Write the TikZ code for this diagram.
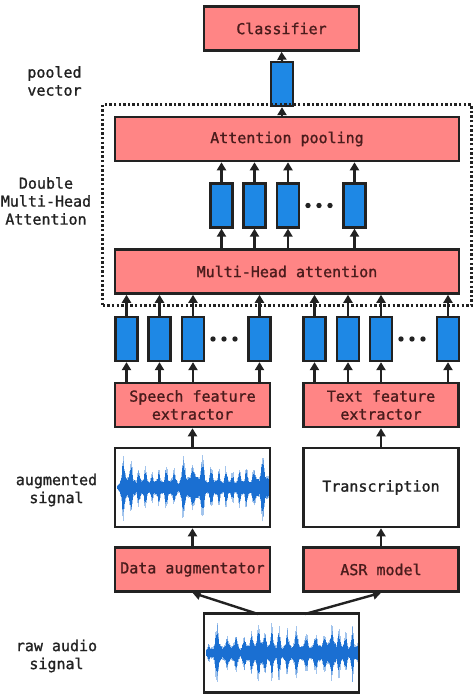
\documentclass[tikz,border=0pt]{standalone}
\usepackage{fontspec}
\setmainfont{DejaVu Sans Mono}[FakeBold=1.2]
\usetikzlibrary{arrows.meta,fit}

\definecolor{boxred}{HTML}{FF8585}
\definecolor{boxtxt}{HTML}{4A1C1C}
\definecolor{edge}{HTML}{222222}
\definecolor{vecblue}{HTML}{1E88E5}
\definecolor{wave}{HTML}{1A6FD2}

% waveform drawn round a centre point
\newcommand{\audiowave}[2]{%
  \begin{scope}[shift={(#1)}]
    \pgfmathsetseed{#2}
    \foreach \i in {0,...,255} {
      \pgfmathsetmacro\xx{-76+\i*0.6}
      \pgfmathsetmacro\env{min(1,(\xx+76)/6)}
      \pgfmathsetmacro\ph{(\xx+76)*22.5+60*sin(\xx*4.3+#2*17)}
      \pgfmathsetmacro\h{0.4+0.6*abs(sin(\xx*9.1+#2*31)*cos(\xx*2.3))}
      \pgfmathsetmacro\b{abs(sin(\ph))^5}
      \pgfmathsetmacro\body{4+4*max(0,sin(\xx*5.1+#2*40))^2+2*abs(sin(\xx*13))}
      \pgfmathsetmacro\sp{28*\h*\b}
      \pgfmathsetmacro\up{\env*(\body+2*rnd+\sp*(0.6+0.4*rnd))}
      \pgfmathsetmacro\dn{\env*(\body+2*rnd+\sp*(0.6+0.4*rnd))}
      \pgfmathsetmacro\core{\env*(\body*(0.8+0.3*rnd)+0.55*\sp)}
      \draw[wave, line width=0.8pt, opacity=0.4] (\xx,-\dn) -- (\xx,\up);
      \draw[wave, line width=0.7pt] (\xx,-\core) -- (\xx,\core);
    }
  \end{scope}}

\begin{document}
\begin{tikzpicture}
  [x=1pt,y=1pt,font=\fontsize{15}{18}\selectfont,
   block/.style={draw=edge,line width=2.6pt,fill=boxred,text=boxtxt,
     minimum width=155pt,minimum height=44pt,inner sep=0pt,align=center},
   wideblock/.style={block,minimum width=344pt},
   plain/.style={block,fill=white,text=edge,minimum height=79pt},
   wavebox/.style={plain,path picture={\audiowave{path picture bounding box.center}{#1}}},
   vec/.style={draw=edge,line width=2.3pt,fill=vecblue,
     minimum width=22pt,minimum height=44pt,inner sep=0pt},
   lbl/.style={align=center,text=edge},
   arr/.style={draw=edge,line width=2.4pt,-{Triangle[width=9pt,length=8pt]}}]

  \useasboundingbox (0,0) rectangle (474,697);

  % boxes
  \node[block] (cls) at (281.5,668.5) {Classifier};
  \node[vec] (pool) at (282,613) {};
  \node[wideblock] (ap) at (287,558) {Attention pooling};
  \node[wideblock] (mha) at (287,425.5) {Multi-Head attention};
  \node[block] (sfe) at (192.5,292) {Speech feature\\extractor};
  \node[block] (tfe) at (381,292) {Text feature\\extractor};
  \node[wavebox=11] (aug) at (192.5,209.5) {};
  \node[plain] (trs) at (381,209.5) {Transcription};
  \node[block] (dau) at (192.5,127.5) {Data augmentator};
  \node[block] (asr) at (381,127.5) {ASR model};
  \node[wavebox=5] (raw) at (281.5,44) {};

  \node[fit=(ap)(mha),draw=edge,line width=2.6pt,
    dash pattern=on 2.4pt off 2.2pt,inner sep=11pt] (dha) {};

  % heads between the two attention blocks
  \foreach \name/\x in {h1/221.5,h2/254.5,h3/288,h4/354.5} {
    \node[vec] (\name) at (\x,491.5) {};
    \draw[arr] (\name |- mha.north) -- (\name.south);
    \draw[arr] (\name.north) -- (\name |- ap.south);
  }

  % speech and text features
  \foreach \name/\x in {s1/126.5,s2/159.5,s3/193,s4/259.5,
                        t1/314.5,t2/348,t3/381,t4/448} {
    \node[vec] (\name) at (\x,358) {};
    \draw[arr] (\name.north) -- (\name |- mha.south);
  }
  \foreach \name in {s1,s2,s3,s4}
    \draw[arr] (\name |- sfe.north) -- (\name.south);
  \foreach \name in {t1,t2,t3,t4}
    \draw[arr] (\name |- tfe.north) -- (\name.south);

  \coordinate (dh) at (319,491.5);
  \coordinate (ds) at (224,358);
  \coordinate (dt) at (412,358);
  \foreach \c in {dh,ds,dt}
    \foreach \k in {-11,0,11}
      \fill[edge] (\c) ++(\k,0) circle (2.7pt);

  % connectors
  \draw[arr] (pool.north) -- (cls.south);
  \draw[arr] (ap.north -| pool) -- (pool.south);
  \draw[arr] (aug.north) -- (sfe.south);
  \draw[arr] (trs.north) -- (tfe.south);
  \draw[arr] (dau.north) -- (aug.south);
  \draw[arr] (asr.north) -- (trs.south);
  \coordinate (rl) at (258,83);
  \coordinate (rr) at (305,83);
  \draw[arr] (rl) -- (dau.south);
  \draw[arr] (rr) -- (asr.south);

  % side labels
  \node[lbl] (lpool) at (54.5,616) {pooled\\vector};
  \node[lbl] (ldha) at (46,496) {Double\\Multi-Head\\Attention};
  \node[lbl] (laug) at (56.5,207) {augmented\\signal};
  \node[lbl] (lraw) at (56.5,41) {raw audio\\signal};

\end{tikzpicture}
\end{document}
